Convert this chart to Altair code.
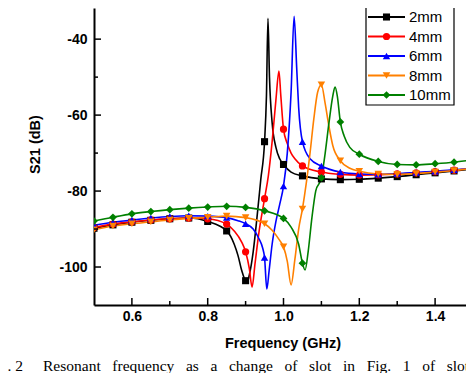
import altair as alt
import pandas as pd

series_names = ["2mm", "4mm", "6mm", "8mm", "10mm"]
series_colors = ["#000000", "#ff0000", "#0000ff", "#ff8000", "#008000"]
series_shapes = ["square", "circle", "triangle-up", "triangle-down", "diamond"]
marker_sizes = [50, 60, 64, 64, 75]

f_2mm = [0.50, 0.55, 0.60, 0.65, 0.70, 0.75, 0.80, 0.85, 0.87, 0.88, 0.89, 0.90, 0.905, 0.91, 0.92, 0.93,
         0.94, 0.95, 0.955, 0.959, 0.963, 0.97, 0.98, 0.99, 1.00, 1.02, 1.05, 1.10, 1.15, 1.20, 1.25, 1.30,
         1.35, 1.40, 1.45, 1.50]
s_2mm = [-89.8, -88.9, -88.2, -87.7, -87.3, -87.1, -88.0, -90.5, -94.0, -97.0, -101.0, -103.6, -103.8, -102.0,
         -96.0, -87.0, -77.0, -67.0, -55.0, -34.5, -50.0, -62.0, -68.5, -71.5, -73.0, -75.0, -76.0, -76.8, -77.0,
         -76.9, -76.6, -76.2, -75.7, -75.2, -74.7, -74.2]

f_4mm = [0.50, 0.55, 0.60, 0.65, 0.70, 0.75, 0.80, 0.85, 0.87, 0.89, 0.90, 0.91, 0.917, 0.925, 0.935, 0.95,
         0.96, 0.97, 0.98, 0.988, 0.993, 1.00, 1.01, 1.02, 1.03, 1.05, 1.10, 1.15, 1.20, 1.25, 1.30, 1.35,
         1.40, 1.45, 1.50]
s_4mm = [-89.6, -88.7, -88.1, -87.6, -87.3, -87.1, -87.3, -88.7, -90.5, -93.5, -96.0, -100.5, -105.3, -99.0,
         -91.0, -82.0, -76.0, -67.0, -56.0, -48.4, -55.0, -63.7, -67.5, -70.0, -71.5, -73.4, -75.0, -75.6, -75.8,
         -75.7, -75.5, -75.2, -74.9, -74.5, -74.0]

f_6mm = [0.50, 0.55, 0.60, 0.65, 0.70, 0.75, 0.80, 0.85, 0.88, 0.90, 0.92, 0.935, 0.945, 0.95, 0.956, 0.962,
         0.97, 0.98, 0.99, 1.00, 1.01, 1.02, 1.028, 1.035, 1.04, 1.05, 1.07, 1.10, 1.15, 1.20, 1.25, 1.30,
         1.35, 1.40, 1.45, 1.50]
s_6mm = [-89.0, -88.2, -87.6, -87.1, -86.7, -86.5, -86.6, -87.0, -87.8, -88.6, -90.0, -92.5, -95.0, -97.5,
         -105.8, -101.0, -94.0, -88.0, -83.5, -78.7, -70.0, -54.0, -34.0, -48.0, -58.0, -67.0, -71.5, -73.4,
         -75.0, -75.5, -75.6, -75.4, -75.1, -74.8, -74.4, -74.0]

f_8mm = [0.50, 0.55, 0.60, 0.65, 0.70, 0.75, 0.80, 0.85, 0.90, 0.95, 0.97, 0.99, 1.00, 1.01, 1.02, 1.03,
         1.04, 1.05, 1.06, 1.07, 1.08, 1.09, 1.10, 1.11, 1.12, 1.13, 1.15, 1.175, 1.20, 1.25, 1.30, 1.35,
         1.40, 1.45, 1.50]
s_8mm = [-90.2, -89.2, -88.6, -88.1, -87.6, -87.2, -86.9, -86.6, -87.0, -88.6, -90.3, -93.0, -94.7, -98.5,
         -104.7, -98.0, -90.0, -84.7, -78.0, -70.0, -61.0, -54.0, -52.0, -57.0, -63.0, -68.0, -72.0, -74.0,
         -74.8, -75.5, -75.6, -75.4, -75.0, -74.6, -74.0]

f_10mm = [0.50, 0.55, 0.60, 0.65, 0.70, 0.75, 0.80, 0.85, 0.90, 0.95, 1.00, 1.02, 1.04, 1.05, 1.057, 1.065,
          1.075, 1.085, 1.10, 1.11, 1.12, 1.13, 1.136, 1.142, 1.15, 1.16, 1.175, 1.20, 1.25, 1.30, 1.35,
          1.40, 1.45, 1.50]
s_10mm = [-87.9, -86.9, -86.0, -85.4, -84.9, -84.5, -84.2, -84.0, -84.3, -85.2, -87.2, -89.5, -94.0, -99.0,
          -100.8, -96.0, -87.0, -80.0, -76.5, -70.0, -62.0, -55.0, -52.6, -55.0, -61.8, -65.5, -68.5, -70.3,
          -72.2, -73.0, -73.1, -72.8, -72.4, -71.8]

x_major = [0.6, 0.8, 1.0, 1.2, 1.4]
x_minor = [0.7, 0.9, 1.1, 1.3, 1.5]
y_major = [-100, -80, -60, -40]
y_minor = [-90, -70, -50]

caption_left = ["Fig. 2"]
caption_words = ["Resonant", "frequency", "as", "a", "change", "of", "slot", "in", "Fig.", "1", "of", "slot", "length"]

all_f = [f_2mm, f_4mm, f_6mm, f_8mm, f_10mm]
all_s = [s_2mm, s_4mm, s_6mm, s_8mm, s_10mm]
rows = []
for name, fs, ss in zip(series_names, all_f, all_s):
    for i, (f, s) in enumerate(zip(fs, ss)):
        mk = 1 if abs(f * 20 - round(f * 20)) < 1e-6 else 0
        rows.append({"series": name, "f": f, "s21": s, "i": i, "mk": mk})
df = pd.DataFrame(rows)
leg_df = pd.DataFrame({"series": series_names})

W, H = 372, 297
X_END = 0.5 + W / 379.0
xscale = alt.Scale(domain=[0.5, X_END], nice=False, zero=False)
yscale = alt.Scale(domain=[-110, -31.8], nice=False, zero=False)
cscale = alt.Scale(domain=series_names, range=series_colors)
shscale = alt.Scale(domain=series_names, range=series_shapes)
szscale = alt.Scale(domain=series_names, range=marker_sizes)
legy = alt.Scale(type="point", domain=series_names, range=[9, 87], padding=0)

FONT = "Liberation Sans"

base = alt.Chart(df)

lines = base.mark_line(strokeWidth=1.6, interpolate="monotone", clip=True).encode(
    x=alt.X("f:Q", scale=xscale,
            axis=alt.Axis(values=x_major, format=".1f", title="Frequency (GHz)",
                          titleX=188.5, titleY=38, titleBaseline="middle", titleAlign="center",
                          labelPadding=4, labelBaseline="top")),
    y=alt.Y("s21:Q", scale=yscale,
            axis=alt.Axis(values=y_major, labelExpr="'' + datum.value", title="S21 (dB)",
                          titleX=-59, titleY=136, titleAngle=270, titleBaseline="middle",
                          titleAlign="center", labelPadding=7)),
    color=alt.Color("series:N", scale=cscale, legend=None),
    order="i:Q",
)

points = base.transform_filter(alt.datum.mk == 1).mark_point(filled=True, opacity=1, clip=True).encode(
    x=alt.X("f:Q", scale=xscale, axis=None),
    y=alt.Y("s21:Q", scale=yscale, axis=None),
    color=alt.Color("series:N", scale=cscale, legend=None),
    shape=alt.Shape("series:N", scale=shscale, legend=None),
    size=alt.Size("series:N", scale=szscale, legend=None),
)

# inward ticks
xmaj = alt.Chart(pd.DataFrame({"v": x_major})).mark_rule(color="black", strokeWidth=1.5, clip=True).encode(
    x=alt.X("v:Q", scale=xscale, axis=None), y=alt.value(H), y2=alt.value(H - 7))
xmin = alt.Chart(pd.DataFrame({"v": x_minor})).mark_rule(color="black", strokeWidth=1.5, clip=True).encode(
    x=alt.X("v:Q", scale=xscale, axis=None), y=alt.value(H), y2=alt.value(H - 4))
ymaj = alt.Chart(pd.DataFrame({"v": y_major})).mark_rule(color="black", strokeWidth=1.5).encode(
    y=alt.Y("v:Q", scale=yscale, axis=None), x=alt.value(0), x2=alt.value(7))
ymin = alt.Chart(pd.DataFrame({"v": y_minor})).mark_rule(color="black", strokeWidth=1.5).encode(
    y=alt.Y("v:Q", scale=yscale, axis=None), x=alt.value(0), x2=alt.value(4))

# legend (drawn as marks)
leg_box = alt.Chart(pd.DataFrame({"k": [0]})).mark_rect(fill="white", stroke="black", strokeWidth=1.2).encode(
    x=alt.value(272), x2=alt.value(360), y=alt.value(-3), y2=alt.value(97))
leg_base = alt.Chart(leg_df)
leg_lines = leg_base.mark_rule(strokeWidth=1.8).encode(
    y=alt.Y("series:N", scale=legy, axis=None), x=alt.value(274), x2=alt.value(311),
    color=alt.Color("series:N", scale=cscale, legend=None))
leg_pts = leg_base.mark_point(filled=True, opacity=1).encode(
    y=alt.Y("series:N", scale=legy, axis=None), x=alt.value(292.5),
    color=alt.Color("series:N", scale=cscale, legend=None),
    shape=alt.Shape("series:N", scale=shscale, legend=None),
    size=alt.Size("series:N", scale=szscale, legend=None))
leg_txt = leg_base.mark_text(align="left", baseline="middle", font=FONT, fontSize=15, color="black").encode(
    y=alt.Y("series:N", scale=legy, axis=None), x=alt.value(315), text="series:N")

SEP = "\u00a0\u00a0\u00a0"
cap1 = alt.Chart(pd.DataFrame({"t": caption_left})).mark_text(
    font="Liberation Serif", fontSize=15.5, align="right", baseline="alphabetic", color="black").encode(
    text="t:N", x=alt.value(-71), y=alt.value(363))
cap2 = alt.Chart(pd.DataFrame({"t": [SEP.join(caption_words)]})).mark_text(
    font="Liberation Serif", fontSize=15.5, align="left", baseline="alphabetic", color="black").encode(
    text="t:N", x=alt.value(-51), y=alt.value(363))

chart = alt.layer(lines, points, xmaj, xmin, ymaj, ymin, leg_box, leg_lines, leg_pts, leg_txt, cap1, cap2
).resolve_scale(x="independent", y="independent").properties(
    width=W, height=H,
    autosize=alt.AutoSizeParams(type="none"),
    padding={"left": 86, "top": 0, "right": 0, "bottom": 68},
    background="white",
).configure_view(stroke=None).configure_axis(
    domainColor="black", domainWidth=2, ticks=False, grid=False,
    labelFont=FONT, labelFontSize=14, labelFontWeight="bold", labelColor="black",
    titleFont=FONT, titleFontSize=14.5, titleFontWeight="bold", titleColor="black",
    labelFlush=False,
)

chart.save("out.html", embed_options={"renderer": "svg", "actions": False})
